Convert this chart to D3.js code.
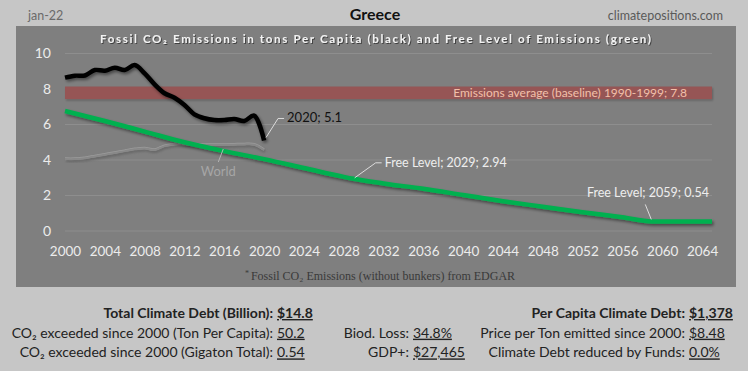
<!DOCTYPE html>
<html lang="en">
<head>
    <meta charset="UTF-8">
    <title>Greece</title>
    <script src="https://d3js.org/d3.v7.min.js"></script>
    <style>
        body { margin: 0; background: #c6c6c6; }
        svg { display: block; font-family: Lato, "Open Sans", sans-serif; }
    </style>
</head>
<body>
    <div id="chart"></div>

    <script>
        // Data
        var years = [2000, 2001, 2002, 2003, 2004, 2005, 2006, 2007, 2008, 2009, 2010,
                     2011, 2012, 2013, 2014, 2015, 2016, 2017, 2018, 2019, 2020];
        var greece = [8.64, 8.75, 8.76, 9.07, 9.03, 9.2, 9.07, 9.35, 8.88, 8.26, 7.76,
                      7.51, 7.1, 6.57, 6.35, 6.25, 6.25, 6.31, 6.2, 6.5, 5.1];
        var world = [4.05, 4.05, 4.1, 4.2, 4.3, 4.4, 4.5, 4.6, 4.65, 4.56, 4.78,
                     4.88, 4.88, 4.87, 4.85, 4.84, 4.84, 4.86, 4.88, 4.86, 4.56];
        var freeYears = [2000, 2004, 2008, 2012, 2016, 2020, 2024, 2028, 2029, 2032,
                         2036, 2040, 2044, 2048, 2052, 2056, 2059, 2062, 2065];
        var freeLevel = [6.76, 6.2, 5.6, 5.0, 4.5, 4.05, 3.55, 3.05, 2.94, 2.68,
                         2.38, 2.03, 1.68, 1.37, 1.06, 0.77, 0.54, 0.54, 0.54];
        var baseline = 7.8;
        var xTicks = [2000, 2004, 2008, 2012, 2016, 2020, 2024, 2028, 2032, 2036,
                      2040, 2044, 2048, 2052, 2056, 2060, 2064];
        var yTicks = [0, 2, 4, 6, 8, 10];

        var statsLeft = [
            ["Total Climate Debt (Billion):", "$14.8"],
            ["CO\u2082 exceeded since 2000 (Ton Per Capita):", "50.2"],
            ["CO\u2082 exceeded since 2000 (Gigaton Total):", "0.54"]
        ];
        var statsMid = [
            ["Biod. Loss:", "34.8%"],
            ["GDP+:", "$27,465"]
        ];
        var statsRight = [
            ["Per Capita Climate Debt:", "$1,378"],
            ["Price per Ton emitted since 2000:", "$8.48"],
            ["Climate Debt reduced by Funds:", "0.0%"]
        ];

        var W = 748, H = 371;
        var svg = d3.select("#chart").append("svg")
            .attr("width", W)
            .attr("height", H);

        var defs = svg.append("defs");
        var shadow = defs.append("filter").attr("id", "shadow")
            .attr("x", "-10%").attr("y", "-30%").attr("width", "130%").attr("height", "160%");
        shadow.append("feDropShadow")
            .attr("dx", 1.5).attr("dy", 2)
            .attr("stdDeviation", 1.8)
            .attr("flood-color", "#000")
            .attr("flood-opacity", 0.45);
        var bandShadow = defs.append("filter").attr("id", "bandshadow")
            .attr("x", "-5%").attr("y", "-50%").attr("width", "110%").attr("height", "200%");
        bandShadow.append("feDropShadow")
            .attr("dx", 1).attr("dy", 1.5)
            .attr("stdDeviation", 1)
            .attr("flood-color", "#000")
            .attr("flood-opacity", 0.25);
        var blur = defs.append("filter").attr("id", "soft");
        blur.append("feGaussianBlur").attr("stdDeviation", 0.8);
        var txtShadow = defs.append("filter").attr("id", "txtshadow");
        txtShadow.append("feDropShadow")
            .attr("dx", 1).attr("dy", 1)
            .attr("stdDeviation", 0.6)
            .attr("flood-color", "#333")
            .attr("flood-opacity", 0.8);

        // outer background
        svg.append("rect").attr("width", W).attr("height", H).attr("fill", "#c6c6c6");
        // plot background
        svg.append("rect")
            .attr("x", 16).attr("y", 26)
            .attr("width", 720).attr("height", 261)
            .attr("fill", "#7f7f7f");

        var x = d3.scaleLinear().domain([2000, 2065]).range([65, 712]);
        var y = d3.scaleLinear().domain([0, 10]).range([231, 53.5]);

        // header
        svg.append("text").attr("x", 28).attr("y", 20)
            .attr("font-size", 12.5).attr("fill", "#6a6a6a").text("jan-22");
        svg.append("text").attr("x", 375).attr("y", 20)
            .attr("text-anchor", "middle").attr("font-size", 16).attr("font-weight", "bold")
            .attr("fill", "#111").text("Greece");
        svg.append("text").attr("x", 723).attr("y", 20)
            .attr("text-anchor", "end").attr("font-size", 12.5).attr("fill", "#5a5a5a")
            .text("climatepositions.com");

        // chart title
        svg.append("text").attr("x", 100).attr("y", 43)
            .attr("font-size", 11.5).attr("font-weight", "bold")
            .attr("fill", "#f2f2f2")
            .attr("textLength", 551).attr("lengthAdjust", "spacing")
            .attr("filter", "url(#txtshadow)")
            .text("Fossil CO\u2082 Emissions in tons Per Capita (black) and Free Level of Emissions (green)");

        // gridlines
        svg.append("g").selectAll("line")
            .data(yTicks).enter().append("line")
            .attr("x1", x(2000)).attr("x2", x(2065))
            .attr("y1", function(d) { return y(d); })
            .attr("y2", function(d) { return y(d); })
            .attr("stroke", "#8e8e8e").attr("stroke-width", 1);

        // y axis labels
        var yAxis = svg.append("g")
            .attr("transform", "translate(" + x(2000) + ",0)")
            .call(d3.axisLeft(y).tickValues(yTicks).tickSize(0).tickPadding(14));
        yAxis.select(".domain").remove();
        yAxis.selectAll("text")
            .attr("font-family", "Lato, sans-serif")
            .attr("font-size", 14).attr("fill", "#ececec");

        // x axis labels
        var xAxis = svg.append("g")
            .attr("transform", "translate(0," + y(0) + ")")
            .call(d3.axisBottom(x).tickValues(xTicks).tickFormat(d3.format("d")).tickSize(0).tickPadding(15));
        xAxis.select(".domain").remove();
        xAxis.selectAll("text")
            .attr("font-family", "Lato, sans-serif")
            .attr("font-size", 13.5).attr("fill", "#ececec");

        // baseline band
        svg.append("rect")
            .attr("x", x(2000)).attr("y", y(baseline) - 6)
            .attr("width", x(2065) - x(2000)).attr("height", 12.5)
            .attr("fill", "#965555")
            .attr("filter", "url(#bandshadow)");
        svg.append("text")
            .attr("x", 687).attr("y", y(baseline) + 4.5)
            .attr("text-anchor", "end").attr("font-size", 12)
            .attr("fill", "#f2c0aa")
            .text("Emissions average (baseline) 1990-1999; " + baseline);

        var line = d3.line()
            .x(function(d) { return x(d[0]); })
            .y(function(d) { return y(d[1]); })
            .curve(d3.curveCatmullRom);

        // world line (embossed grey)
        var worldPts = years.map(function(yr, i) { return [yr, world[i]]; });
        svg.append("path").datum(worldPts)
            .attr("d", line).attr("fill", "none")
            .attr("stroke", "#686868").attr("stroke-width", 3)
            .attr("transform", "translate(1,1.5)")
            .attr("filter", "url(#soft)");
        svg.append("path").datum(worldPts)
            .attr("d", line).attr("fill", "none")
            .attr("stroke", "#9c9c9c").attr("stroke-width", 2.5)
            .attr("transform", "translate(0,-0.5)");
        svg.append("path").datum(worldPts)
            .attr("d", line).attr("fill", "none")
            .attr("stroke", "#888888").attr("stroke-width", 2);

        // free level (green)
        var freePts = freeYears.map(function(yr, i) { return [yr, freeLevel[i]]; });
        svg.append("path").datum(freePts)
            .attr("d", line.curve(d3.curveMonotoneX)).attr("fill", "none")
            .attr("stroke", "#00b050").attr("stroke-width", 4.5)
            .attr("filter", "url(#shadow)");

        // greece line (black)
        var greecePts = years.map(function(yr, i) { return [yr, greece[i]]; });
        svg.append("path").datum(greecePts)
            .attr("d", line.curve(d3.curveCatmullRom)).attr("fill", "none")
            .attr("stroke", "#050505").attr("stroke-width", 4.5)
            .attr("stroke-linejoin", "round")
            .attr("filter", "url(#shadow)");

        // annotations
        var leader = svg.append("g").attr("stroke", "#dcdcdc").attr("stroke-width", 1).attr("fill", "none");
        var lastYr = years[years.length - 1], lastVal = greece[greece.length - 1];
        leader.append("path").attr("d", "M" + (x(lastYr) + 2) + "," + (y(lastVal) - 3) +
            "L" + (x(lastYr) + 14) + "," + (y(lastVal) - 22) + "h6");
        svg.append("text").attr("x", x(lastYr) + 23).attr("y", y(lastVal) - 18)
            .attr("font-size", 13).attr("fill", "#111")
            .text(lastYr + "; " + lastVal);

        leader.append("path").attr("d", "M" + (x(2029) + 1) + "," + (y(2.94) - 1) +
            "L" + (x(2029) + 22) + "," + (y(2.94) - 16) + "h6");
        svg.append("text").attr("x", x(2029) + 31).attr("y", y(2.94) - 12)
            .attr("font-size", 12.5).attr("fill", "#eeeeee")
            .text("Free Level; 2029; 2.94");

        leader.append("path").attr("d", "M" + (x(2059) - 1) + "," + (y(0.54) - 2) +
            "L" + (x(2059) - 7) + "," + (y(0.54) - 17));
        svg.append("text").attr("x", 709).attr("y", y(0.54) - 24)
            .attr("text-anchor", "end")
            .attr("font-size", 12.5).attr("fill", "#eeeeee")
            .text("Free Level; 2059; 0.54");

        leader.append("path").attr("stroke", "#b4b4b4")
            .attr("d", "M" + (x(2016) - 1) + "," + (y(4.84) + 4) + "L" + (x(2016) - 6) + "," + (y(4.84) + 17));
        svg.append("text").attr("x", x(2016) - 6).attr("y", y(4.84) + 31)
            .attr("text-anchor", "middle")
            .attr("font-size", 13).attr("fill", "#a6a6a6")
            .text("World");

        // footnote
        var foot = svg.append("text").attr("x", 380).attr("y", 280)
            .attr("text-anchor", "middle")
            .attr("font-family", "'Liberation Serif', 'DejaVu Serif', serif")
            .attr("font-size", 12).attr("fill", "#3a3a3a");
        foot.append("tspan").attr("font-size", 8).attr("dy", -4).text("* ");
        foot.append("tspan").attr("dy", 4).text("Fossil CO\u2082 Emissions (without bunkers) from EDGAR");

        // stats block
        function statRows(rows, colonX, y0, boldFirst) {
            rows.forEach(function(r, i) {
                var yy = y0 + i * 19.7;
                var bold = boldFirst && i === 0 ? "bold" : "normal";
                svg.append("text").attr("x", colonX).attr("y", yy)
                    .attr("text-anchor", "end").attr("font-size", 14)
                    .attr("font-weight", bold).attr("fill", "#222")
                    .text(r[0]);
                svg.append("text").attr("x", colonX + 4).attr("y", yy)
                    .attr("font-size", 14).attr("font-weight", bold).attr("fill", "#222")
                    .style("text-decoration", "underline")
                    .text(r[1]);
            });
        }
        statRows(statsLeft, 273, 318, true);
        statRows(statsMid, 409, 337.7, false);
        statRows(statsRight, 685, 318, true);
    </script>
</body>
</html>
